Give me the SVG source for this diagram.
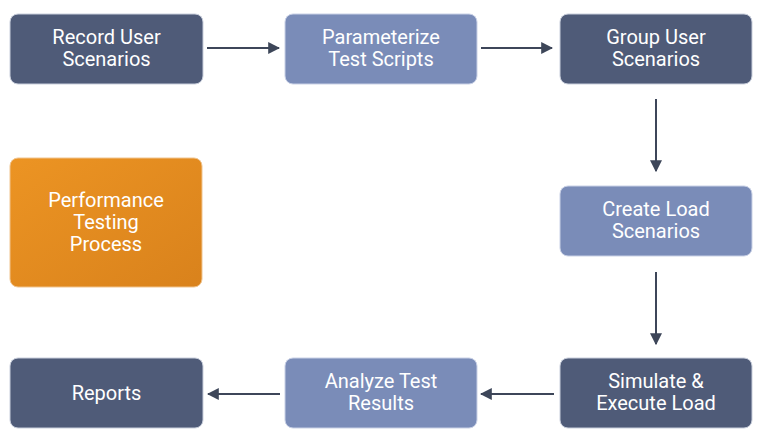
<svg xmlns="http://www.w3.org/2000/svg" width="768" height="432" viewBox="0 0 768 432">
<style>
.dark{fill:#4f5b78;stroke:#c9cfdc;stroke-width:1}
.light{fill:#7a8cb8;stroke:#c9d1e6;stroke-width:1}
.lbl{font-family:Roboto,"Liberation Sans",sans-serif;font-size:20px;fill:#ffffff;text-anchor:middle}
.conn{stroke:#3d4659;stroke-width:2;fill:none;marker-end:url(#ah)}
</style>
<defs>
<marker id="ah" viewBox="0 0 10 10" refX="9" refY="5" markerWidth="12" markerHeight="12" markerUnits="userSpaceOnUse" orient="auto">
<path d="M0,0 L10,5 L0,10 z" fill="#3d4659"/>
</marker>
<linearGradient id="og" x1="0" y1="0" x2="1" y2="1">
<stop offset="0" stop-color="#ec9423"/>
<stop offset="1" stop-color="#d9821c"/>
</linearGradient>
</defs>
<rect width="768" height="432" fill="#ffffff"/>
<g id="connectors">
<line class="conn" x1="207" y1="48" x2="279" y2="48"/>
<line class="conn" x1="481" y1="48" x2="552" y2="48"/>
<line class="conn" x1="656" y1="99" x2="656" y2="171"/>
<line class="conn" x1="656" y1="272" x2="656" y2="344"/>
<line class="conn" x1="554" y1="394" x2="481" y2="394"/>
<line class="conn" x1="280" y1="394" x2="208" y2="394"/>
</g>
<g id="record">
<rect class="dark" x="10" y="14" width="193" height="70" rx="8"/>
<text class="lbl" x="106.5" y="44">Record User</text>
<text class="lbl" x="106.5" y="66">Scenarios</text>
</g>
<g id="parameterize">
<rect class="light" x="285" y="14" width="192" height="70" rx="8"/>
<text class="lbl" x="381" y="44">Parameterize</text>
<text class="lbl" x="381" y="66">Test Scripts</text>
</g>
<g id="group">
<rect class="dark" x="560" y="14" width="192" height="70" rx="8"/>
<text class="lbl" x="656" y="44">Group User</text>
<text class="lbl" x="656" y="66">Scenarios</text>
</g>
<g id="create">
<rect class="light" x="560" y="186" width="192" height="70" rx="8"/>
<text class="lbl" x="656" y="216">Create Load</text>
<text class="lbl" x="656" y="238">Scenarios</text>
</g>
<g id="process">
<rect x="10" y="158" width="192" height="129" rx="8" fill="url(#og)" stroke="#f0c48f" stroke-width="1"/>
<text class="lbl" x="106" y="207">Performance</text>
<text class="lbl" x="106" y="229">Testing</text>
<text class="lbl" x="106" y="251">Process</text>
</g>
<g id="simulate">
<rect class="dark" x="560" y="358" width="192" height="70" rx="8"/>
<text class="lbl" x="656" y="388">Simulate &amp;</text>
<text class="lbl" x="656" y="410">Execute Load</text>
</g>
<g id="analyze">
<rect class="light" x="285" y="358" width="192" height="70" rx="8"/>
<text class="lbl" x="381" y="388">Analyze Test</text>
<text class="lbl" x="381" y="410">Results</text>
</g>
<g id="reports">
<rect class="dark" x="10" y="358" width="193" height="70" rx="8"/>
<text class="lbl" x="106.5" y="400">Reports</text>
</g>
</svg>
